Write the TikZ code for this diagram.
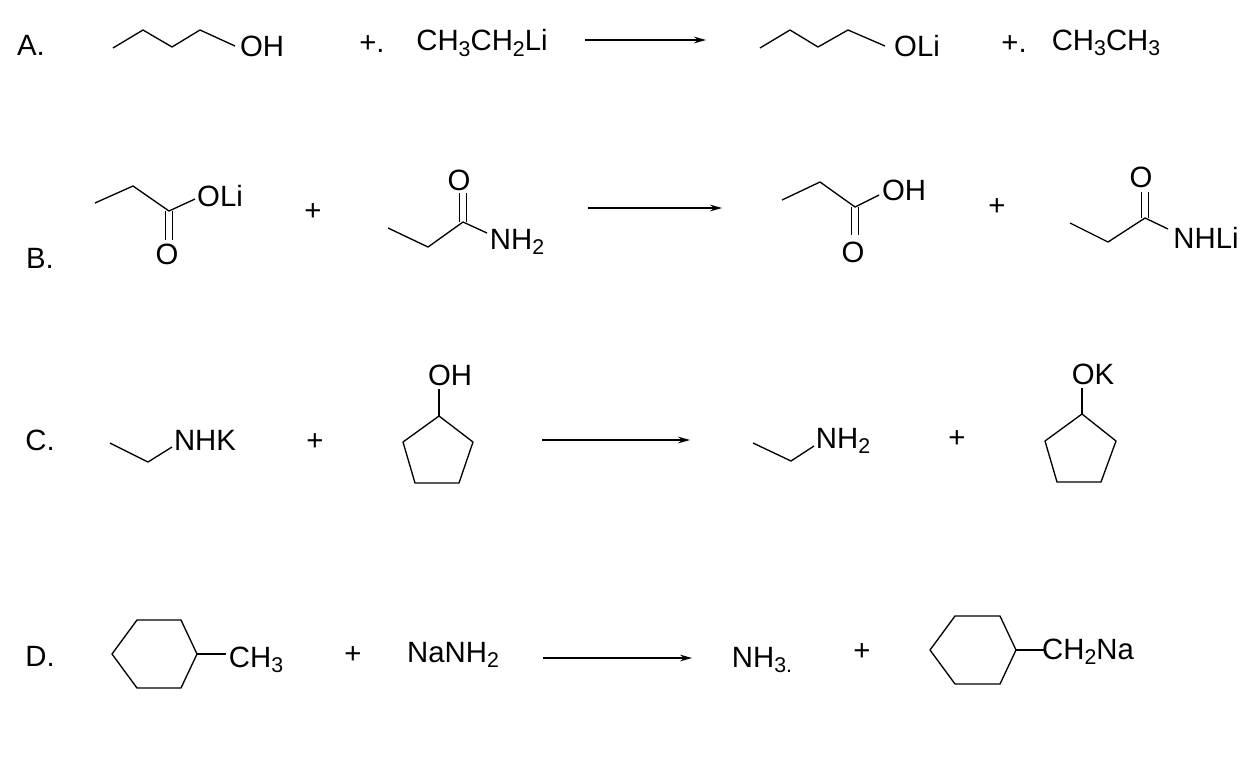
\documentclass[tikz,border=0pt]{standalone}
\usepackage{fontspec}
\setmainfont{Liberation Sans}
\usetikzlibrary{arrows.meta}
\newcommand{\subs}[1]{\raisebox{-0.35ex}{\fontsize{16}{16}\selectfont #1}}
\begin{document}
\begin{tikzpicture}[x=0.75pt,y=-0.75pt,
  bond/.style={line width=1pt,line join=round},
  lbl/.style={inner sep=0pt,font=\fontsize{22}{24}\selectfont},
  rxn/.style={line width=1pt,-{Stealth[length=9pt,width=5pt]}}]
\useasboundingbox (0,0) rectangle (1256,760);
% labels
\node[lbl] (la) at (31,45) {A.};
\node[lbl] (lb) at (40,258) {B.};
\node[lbl] (lc) at (40,440) {C.};
\node[lbl] (ld) at (40,656) {D.};
% ---- Row A
\coordinate (a1) at (113,48); \coordinate (a2) at (143,30); \coordinate (a3) at (172,47);
\coordinate (a4) at (200,30); \coordinate (a5) at (235,46);
\draw[bond] (a1)--(a2)--(a3)--(a4)--(a5);
\node[lbl] (aoh) at (262,46) {OH};
\node[lbl] (ap1) at (372,44) {+.};
\node[lbl] (aet) at (482,43) {CH\subs{3}CH\subs{2}Li};
\coordinate (aA1) at (585,40); \coordinate (aA2) at (706,40);
\draw[rxn] (aA1)--(aA2);
\coordinate (b1) at (760,48); \coordinate (b2) at (790,30); \coordinate (b3) at (818,47);
\coordinate (b4) at (848,30); \coordinate (b5) at (885,46);
\draw[bond] (b1)--(b2)--(b3)--(b4)--(b5);
\node[lbl] (aoli) at (917,46) {OLi};
\node[lbl] (ap2) at (1014,44) {+.};
\node[lbl] (aeth) at (1106,43) {CH\subs{3}CH\subs{3}};
% ---- Row B
\coordinate (c1) at (95,203); \coordinate (c2) at (133,186); \coordinate (c3) at (169,211);
\coordinate (c4) at (195,199); \coordinate (c5) at (169,240);
\draw[bond] (c1)--(c2)--(c3)--(c4);
\draw[bond] ([xshift=-2.5]c3)--([xshift=-2.5]c5);
\draw[bond] ([xshift=2.5]c3)--([xshift=2.5]c5);
\node[lbl] (coli) at (220,196) {OLi};
\node[lbl] (co) at (167,254) {O};
\node[lbl] (bp1) at (313,212) {+};
\coordinate (d1) at (388,228); \coordinate (d2) at (428,247); \coordinate (d3) at (463,222);
\coordinate (d4) at (463,193); \coordinate (d5) at (487,233);
\draw[bond] (d1)--(d2)--(d3)--(d5);
\draw[bond] ([xshift=-2.5]d3)--([xshift=-2.5]d4);
\draw[bond] ([xshift=2.5]d3)--([xshift=2.5]d4);
\node[lbl] (do) at (459,180) {O};
\node[lbl] (dn) at (517,242) {NH\subs{2}};
\coordinate (bA1) at (588,208); \coordinate (bA2) at (722,208);
\draw[rxn] (bA1)--(bA2);
\coordinate (e1) at (782,200); \coordinate (e2) at (820,182); \coordinate (e3) at (855,207);
\coordinate (e4) at (879,195); \coordinate (e5) at (855,235);
\draw[bond] (e1)--(e2)--(e3)--(e4);
\draw[bond] ([xshift=-2.5]e3)--([xshift=-2.5]e5);
\draw[bond] ([xshift=2.5]e3)--([xshift=2.5]e5);
\node[lbl] (eoh) at (904,190) {OH};
\node[lbl] (eo) at (853,252) {O};
\node[lbl] (bp2) at (997,207) {+};
\coordinate (f1) at (1070,223); \coordinate (f2) at (1108,242); \coordinate (f3) at (1145,218);
\coordinate (f4) at (1145,192); \coordinate (f5) at (1168,229);
\draw[bond] (f1)--(f2)--(f3)--(f5);
\draw[bond] ([xshift=-2.5]f3)--([xshift=-2.5]f4);
\draw[bond] ([xshift=2.5]f3)--([xshift=2.5]f4);
\node[lbl] (fo) at (1141,177) {O};
\node[lbl] (fn) at (1206,238) {NHLi};
% ---- Row C
\coordinate (g1) at (110,443); \coordinate (g2) at (148,462); \coordinate (g3) at (172,447);
\draw[bond] (g1)--(g2)--(g3);
\node[lbl] (gn) at (205,440) {NHK};
\node[lbl] (cp1) at (315,442) {+};
\coordinate (h1) at (439,416); \coordinate (h2) at (473,442); \coordinate (h3) at (459,483);
\coordinate (h4) at (415,483); \coordinate (h5) at (403,442); \coordinate (h6) at (439,389);
\draw[bond] (h1)--(h2)--(h3)--(h4)--(h5)--cycle;
\draw[bond] (h1)--(h6);
\node[lbl] (hoh) at (450,375) {OH};
\coordinate (cA1) at (542,440); \coordinate (cA2) at (690,440);
\draw[rxn] (cA1)--(cA2);
\coordinate (i1) at (753,443); \coordinate (i2) at (791,461); \coordinate (i3) at (814,446);
\draw[bond] (i1)--(i2)--(i3);
\node[lbl] (in) at (843,441) {NH\subs{2}};
\node[lbl] (cp2) at (957,439) {+};
\coordinate (j1) at (1082,414); \coordinate (j2) at (1116,441); \coordinate (j3) at (1101,482);
\coordinate (j4) at (1057,482); \coordinate (j5) at (1045,441); \coordinate (j6) at (1082,388);
\draw[bond] (j1)--(j2)--(j3)--(j4)--(j5)--cycle;
\draw[bond] (j1)--(j6);
\node[lbl] (jok) at (1093,374) {OK};
% ---- Row D
\coordinate (k1) at (112,654); \coordinate (k2) at (137,620); \coordinate (k3) at (181,620);
\coordinate (k4) at (197,654); \coordinate (k5) at (181,688); \coordinate (k6) at (137,688);
\coordinate (k7) at (226,654);
\draw[bond] (k1)--(k2)--(k3)--(k4)--(k5)--(k6)--cycle;
\draw[bond] (k4)--(k7);
\node[lbl] (kch) at (256,660) {CH\subs{3}};
\node[lbl] (dp1) at (353,655) {+};
\node[lbl] (dna) at (453,655) {NaNH\subs{2}};
\coordinate (dA1) at (543,658); \coordinate (dA2) at (692,658);
\draw[rxn] (dA1)--(dA2);
\node[lbl] (dnh) at (762,660) {NH\subs{3.}};
\node[lbl] (dp2) at (862,652) {+};
\coordinate (m1) at (930,650); \coordinate (m2) at (955,616); \coordinate (m3) at (1000,616);
\coordinate (m4) at (1016,650); \coordinate (m5) at (1000,684); \coordinate (m6) at (955,684);
\coordinate (m7) at (1046,650);
\draw[bond] (m1)--(m2)--(m3)--(m4)--(m5)--(m6)--cycle;
\draw[bond] (m4)--(m7);
\node[lbl] (mch) at (1088,652) {CH\subs{2}Na};
\end{tikzpicture}
\end{document}
